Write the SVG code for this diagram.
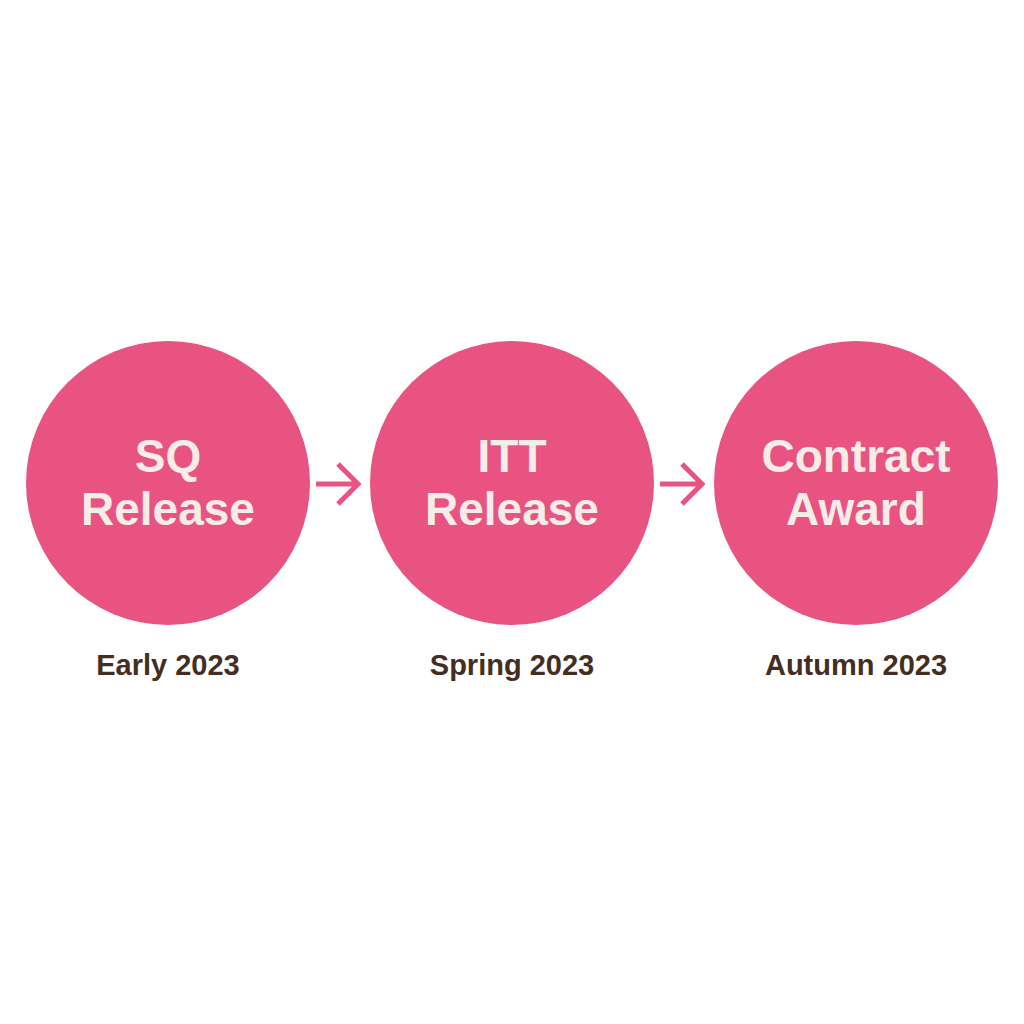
<svg xmlns="http://www.w3.org/2000/svg" width="1024" height="1024" viewBox="0 0 1024 1024">
<style>
.c{fill:#E85382}
.t{font-family:"Liberation Sans",Arial,sans-serif;font-weight:bold;font-size:46px;fill:#F6ECE8;text-anchor:middle}
.d{font-family:"Liberation Sans",Arial,sans-serif;font-weight:bold;font-size:29px;fill:#432E22;text-anchor:middle}
.a{stroke:#E85382;stroke-width:5;fill:none;stroke-linecap:butt}
</style>
<rect width="1024" height="1024" fill="#FFFFFF"/>
<g id="node-sq">
<circle class="c" cx="168" cy="483" r="142"/>
<text class="t" x="168" y="472">SQ</text>
<text class="t" x="168" y="525">Release</text>
<text class="d" x="168" y="675">Early 2023</text>
</g>
<g id="node-itt">
<circle class="c" cx="512" cy="483" r="142"/>
<text class="t" x="512" y="472">ITT</text>
<text class="t" x="512" y="525">Release</text>
<text class="d" x="512" y="675">Spring 2023</text>
</g>
<g id="node-contract">
<circle class="c" cx="856" cy="483" r="142"/>
<text class="t" x="856" y="472">Contract</text>
<text class="t" x="856" y="525">Award</text>
<text class="d" x="856" y="675">Autumn 2023</text>
</g>
<g id="connectors">
<path class="a" d="M316 484 H358 M338 464 L358 484 L338 504"/>
<path class="a" d="M660 484 H702 M682 464 L702 484 L682 504"/>
</g>
</svg>
